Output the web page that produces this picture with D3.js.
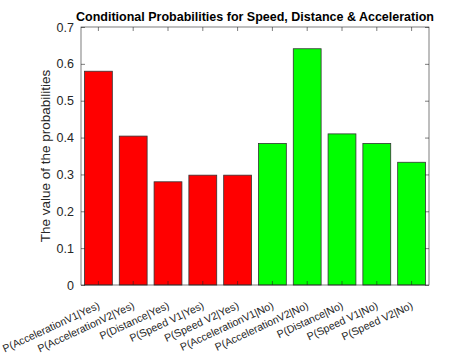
<!DOCTYPE html>
<html><head><meta charset="utf-8">
<script src="https://cdn.jsdelivr.net/npm/d3@7"></script>
<style>body{margin:0;background:#fff}svg{display:block}text{font-family:"Liberation Sans",Arial,sans-serif}</style>
</head><body><svg id="c" width="474" height="360"></svg>
<script>
const categories=["P(AccelerationV1|Yes)","P(AccelerationV2|Yes)","P(Distance|Yes)","P(Speed V1|Yes)","P(Speed V2|Yes)","P(AccelerationV1|No)","P(AccelerationV2|No)","P(Distance|No)","P(Speed V1|No)","P(Speed V2|No)"];
const values=[0.58,0.404,0.28,0.298,0.298,0.384,0.641,0.41,0.384,0.333];
const groups=["Yes","Yes","Yes","Yes","Yes","No","No","No","No","No"];
const yTicks=[0,0.1,0.2,0.3,0.4,0.5,0.6,0.7];
const colors={Yes:"#ff0000",No:"#00ff00"};

const svg=d3.select("#c");
const L=81,R=429,T=27,B=285;
const x=d3.scaleBand().domain(categories).range([L,R]).paddingInner(0.2).paddingOuter(0.1);
const y=d3.scaleLinear().domain([0,0.7]).range([B,T]);
const axCol="#262626";

svg.append("rect").attr("x",L).attr("y",T).attr("width",R-L).attr("height",B-T).attr("fill","#fff");

svg.selectAll("rect.bar").data(values).enter().append("rect").attr("class","bar")
 .attr("x",(d,i)=>x(categories[i])).attr("width",x.bandwidth())
 .attr("y",d=>y(d)).attr("height",d=>B-y(d))
 .attr("fill",(d,i)=>colors[groups[i]]).attr("stroke","#333").attr("stroke-width",0.8);

const ax=svg.append("g").attr("transform",`translate(${L},0)`).call(d3.axisLeft(y).tickValues(yTicks).tickSize(-4).tickPadding(7).tickFormat(d=>d===0?"0":d3.format(".1f")(d)));
const axr=svg.append("g").attr("transform",`translate(${R},0)`).call(d3.axisRight(y).tickValues(yTicks).tickSize(-4).tickFormat(""));
const axb=svg.append("g").attr("transform",`translate(0,${B})`).call(d3.axisBottom(x).tickSize(-4).tickFormat(""));
const axt=svg.append("g").attr("transform",`translate(0,${T})`).call(d3.axisTop(x).tickSize(-4).tickFormat(""));
[ax,axr,axb,axt].forEach(g=>{g.select(".domain").remove();g.selectAll("line").attr("stroke",axCol).attr("stroke-width",0.6);});
ax.selectAll("text").attr("font-size",12.5).attr("fill",axCol);

svg.append("g").selectAll("text").data(categories).enter().append("text")
 .attr("transform",d=>`translate(${x(d)+x.bandwidth()/2+2},${B+23}) rotate(-25)`)
 .attr("text-anchor","end").attr("font-size",10.6).attr("fill",axCol).text(d=>d);

svg.append("rect").attr("x",L).attr("y",T).attr("width",R-L).attr("height",B-T).attr("fill","none").attr("stroke",axCol).attr("stroke-width",0.6);

svg.append("text").attr("x",255).attr("y",21).attr("text-anchor","middle").attr("font-size",12.5).attr("font-weight","bold").attr("fill","#000").text("Conditional Probabilities for Speed, Distance & Acceleration");
svg.append("text").attr("transform",`translate(50,${(T+B)/2}) rotate(-90)`).attr("text-anchor","middle").attr("font-size",13.5).attr("fill",axCol).text("The value of the probabilities");
</script></body></html>
